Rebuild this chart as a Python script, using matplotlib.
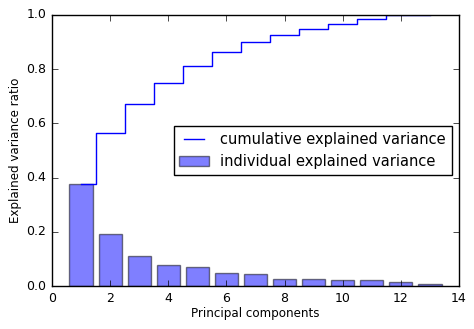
import matplotlib
matplotlib.use("Agg")
import matplotlib.pyplot as plt

components = list(range(1, 14))
individual = [0.376, 0.191, 0.110, 0.078, 0.069, 0.048, 0.043, 0.027, 0.027, 0.021, 0.021, 0.014, 0.006]
cumulative = [0.376, 0.565, 0.671, 0.749, 0.813, 0.862, 0.899, 0.926, 0.948, 0.965, 0.984, 0.999, 1.0]

plt.style.use('classic')
fig = plt.figure(figsize=(4.74, 3.29), dpi=100, facecolor='white')
ax = fig.add_axes([52/474, 1 - 286/329, 407/474, 271/329])
ax.set_facecolor('white')

ax.bar(components, individual, width=0.8, align='center', alpha=0.5, color='b',
       label='individual explained variance')
ax.step(components, cumulative, where='mid', color='b', label='cumulative explained variance')

ax.set_xlim(0, 14)
ax.set_ylim(0, 1.0)
ax.set_xticks(range(0, 15, 2))
ax.set_yticks([0.0, 0.2, 0.4, 0.6, 0.8, 1.0])
ax.tick_params(labelsize=9)
ax.set_ylabel('Explained variance ratio', fontsize=8.6, labelpad=3)
ax.set_xlabel('Principal components', fontsize=8.6, labelpad=2)
leg = ax.legend(loc='center right', fontsize=10.5)
fig.savefig('out.png', dpi=100, facecolor='white')
